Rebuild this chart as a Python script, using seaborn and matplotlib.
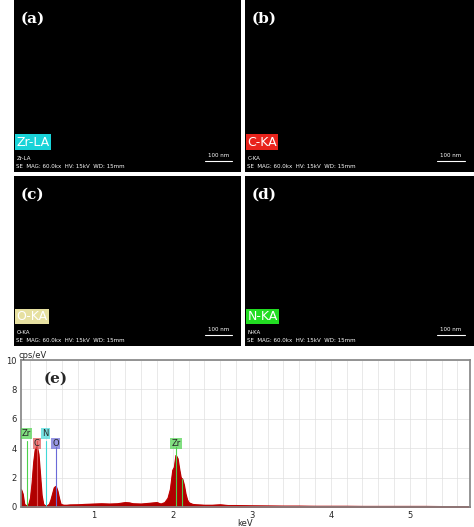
import numpy as np
import matplotlib
matplotlib.use("Agg")
import matplotlib.pyplot as plt
import seaborn as sns
import pandas as pd

sns.set_theme(style="white")
plt.rcParams['font.family'] = ['DejaVu Sans']

# EDS spectrum
energy = [0.08,0.10,0.12,0.14,0.16,0.18,0.20,0.22,0.24,0.26,0.28,0.30,0.32,0.34,0.36,0.38,0.40,
          0.42,0.44,0.46,0.48,0.50,0.52,0.54,0.56,0.58,0.60,0.62,0.66,0.70,0.80,0.90,1.00,1.10,
          1.20,1.30,1.40,1.45,1.50,1.60,1.70,1.80,1.85,1.90,1.94,1.97,2.00,2.02,2.04,2.06,2.08,
          2.10,2.12,2.14,2.16,2.18,2.20,2.25,2.30,2.40,2.50,2.60,2.70,2.80,3.00,3.20,3.40,3.60,
          3.80,4.00,4.20,4.40,4.60,4.80,5.00,5.20,5.40,5.60,5.76]
counts = [1.2,0.9,0.2,0.1,0.1,0.2,0.6,1.6,3.0,3.9,4.1,3.6,2.2,0.8,0.2,0.1,0.1,
          0.1,0.2,0.5,0.9,1.3,1.4,1.1,0.6,0.2,0.15,0.12,0.12,0.14,0.15,0.18,0.2,0.22,
          0.2,0.22,0.3,0.28,0.22,0.2,0.25,0.3,0.2,0.3,0.6,1.2,2.5,2.7,3.5,3.3,2.6,
          2.0,1.9,1.5,0.9,0.5,0.3,0.18,0.15,0.12,0.12,0.15,0.1,0.1,0.08,0.07,0.06,0.06,
          0.05,0.05,0.05,0.04,0.04,0.04,0.04,0.04,0.03,0.03,0.03]

map_labels = ["Zr-LA", "C-KA", "O-KA", "N-KA"]
map_small = ["Zr-LA", "C-KA", "O-KA", "N-KA"]
map_tags = ["(a)", "(b)", "(c)", "(d)"]
map_colors = ["#19d3d8", "#e8231c", "#e6e0a0", "#22dd22"]

line_el = ["Zr", "C", "N", "O", "Zr"]
line_e = [0.15, 0.28, 0.39, 0.52, 2.04]
line_h = [4.5, 4.5, 4.5, 4.1, 4.1]
line_c = ["#4cd24c", "#e05050", "#40d8d8", "#6a6ad8", "#4cd24c"]
label_y = [5.0, 4.3, 5.0, 4.3, 4.3]

W, H = 474, 527
fig = plt.figure(figsize=(W/100, H/100), dpi=100)
boxes = [(14, 0, 227, 172), (245, 0, 229, 172), (14, 176, 227, 170), (245, 176, 229, 170)]
for (x, y, w, h), lab, small, tag, col in zip(boxes, map_labels, map_small, map_tags, map_colors):
    ax = fig.add_axes([x/W, 1-(y+h)/H, w/W, h/H])
    ax.set_facecolor("black")
    ax.set_xticks([]); ax.set_yticks([])
    for s in ax.spines.values():
        s.set_visible(False)
    ax.text(0.03, 0.93, tag, transform=ax.transAxes, color="white", fontsize=11,
            fontweight="bold", family="DejaVu Serif", va="top")
    ax.text(0.01, 0.135, lab, transform=ax.transAxes, color="white", fontsize=9,
            va="bottom", bbox=dict(facecolor=col, edgecolor="none", pad=1))
    ax.text(0.01, 0.08, small, transform=ax.transAxes, color="white", fontsize=4, va="center")
    ax.text(0.01, 0.03, "SE  MAG: 60.0kx  HV: 15kV  WD: 15mm", transform=ax.transAxes,
            color="white", fontsize=4, va="center")
    ax.text(0.90, 0.09, "100 nm", transform=ax.transAxes, color="white", fontsize=4, ha="center")
    ax.plot([0.84, 0.96], [0.065, 0.065], transform=ax.transAxes, color="white", lw=0.8)

ax = fig.add_axes([21/W, 1-507/H, 449/W, 147/H])
df = pd.DataFrame({"keV": energy, "cps": counts})
sns.lineplot(data=df, x="keV", y="cps", ax=ax, color="#c00000", lw=0.8)
ax.fill_between(energy, counts, color="#b00000")
ax.set_xlim(0.08, 5.76); ax.set_ylim(0, 10)
ax.set_xticks([1, 2, 3, 4, 5]); ax.set_yticks([0, 2, 4, 6, 8, 10])
ax.tick_params(labelsize=6, length=2, pad=1)
ax.set_xlabel("keV", fontsize=6, labelpad=-1)
ax.set_ylabel("")
ax.text(-0.005, 1.0, "cps/eV", transform=ax.transAxes, fontsize=6, va="bottom", ha="left")
ax.set_xticks(np.arange(0.2, 5.8, 0.2), minor=True)
ax.grid(True, which="both", color="#e0e0e0", lw=0.5)
for s in ax.spines.values():
    s.set_color("#888888")
for el, e, h, c, ly in zip(line_el, line_e, line_h, line_c, label_y):
    ax.plot([e, e], [0, h], color=c, lw=0.8)
    ax.text(e, ly, el, fontsize=6, ha="center", va="center",
            bbox=dict(facecolor=c, edgecolor="none", pad=0.8, alpha=0.7))
ax.plot([2.12, 2.12], [0, 1.9], color="#4cd24c", lw=0.8)
ax.text(0.05, 0.92, "(e)", transform=ax.transAxes, fontsize=11, fontweight="bold",
        family="DejaVu Serif", va="top")
fig.savefig("out.png", dpi=100, facecolor="white")
